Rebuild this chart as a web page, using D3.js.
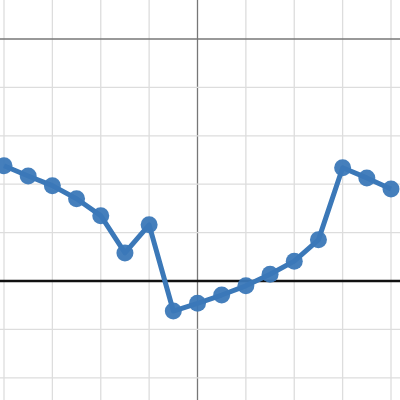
<!DOCTYPE html>
<html><head><meta charset="utf-8">
<script src="https://cdn.jsdelivr.net/npm/d3@7"></script>
<style>body{margin:0;background:#fff}</style></head>
<body><svg width="400" height="400"></svg>
<script>
const xs = d3.range(-8, 9);
const ys = [2.38, 2.17, 1.97, 1.70, 1.35, 0.58, 1.16, -0.62, -0.46, -0.29, -0.10, 0.14, 0.41, 0.85, 2.34, 2.13, 1.90];
const gridX = d3.range(-8, 10, 2);
const gridY = d3.range(-2, 6, 1);

const svg = d3.select("svg");
const x = d3.scaleLinear().domain([-8, 8]).range([4, 391]);
const y = d3.scaleLinear().domain([0, 5]).range([281, 39]);

svg.selectAll(".gx").data(gridX).join("line")
  .attr("x1", d => x(d)).attr("x2", d => x(d)).attr("y1", 0).attr("y2", 400)
  .attr("stroke", d => d === 0 ? "#777" : "#ddd").attr("stroke-width", d => d === 0 ? 1.3 : 1.3);
svg.selectAll(".gy").data(gridY).join("line")
  .attr("y1", d => y(d)).attr("y2", d => y(d)).attr("x1", 0).attr("x2", 400)
  .attr("stroke", d => d === 0 ? "#111" : d === 5 ? "#777" : "#ddd")
  .attr("stroke-width", d => d === 0 ? 2.5 : 1.3);

const pts = xs.map((d, i) => [d, ys[i]]);
svg.append("path").datum(pts)
  .attr("d", d3.line().x(d => x(d[0])).y(d => y(d[1])))
  .attr("fill", "none").attr("stroke", "#3b78b8").attr("stroke-width", 5)
  .attr("stroke-linejoin", "round");
svg.selectAll("circle").data(pts).join("circle")
  .attr("cx", d => x(d[0])).attr("cy", d => y(d[1])).attr("r", 8.5)
  .attr("fill", "#3b78b8").attr("opacity", 0.95);
</script></body></html>
